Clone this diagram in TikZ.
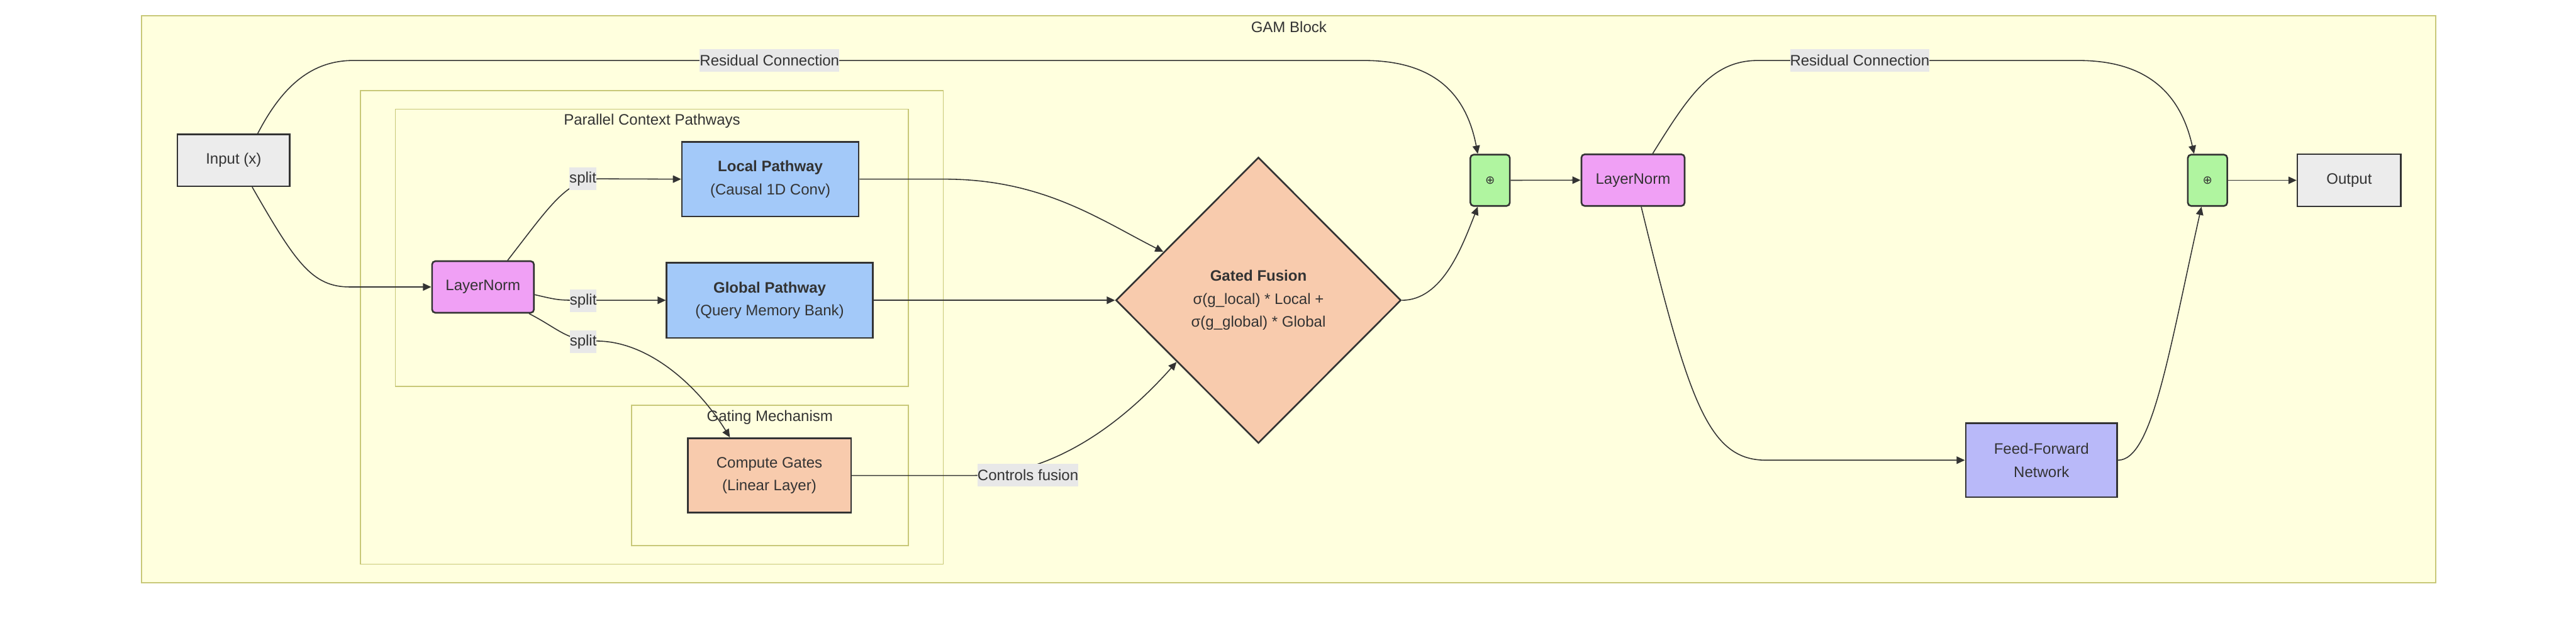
\documentclass[tikz,border=0pt]{standalone}
\usepackage{fontspec}
\setmainfont{Liberation Sans}
\newfontfamily\oplusfont{DejaVu Sans}
\usepackage{tikz}
\usetikzlibrary{shapes.geometric,arrows.meta}
\definecolor{clfill}{HTML}{FFFFDE}
\definecolor{clline}{HTML}{C8C878}
\definecolor{txt}{HTML}{333333}
\definecolor{iofill}{HTML}{ECECEC}
\definecolor{lnfill}{HTML}{F0A0F5}
\definecolor{pathfill}{HTML}{A3C9F9}
\definecolor{gatefill}{HTML}{F8CBAD}
\definecolor{addfill}{HTML}{B0F5A0}
\definecolor{ffnfill}{HTML}{B9B9F9}
\definecolor{lblfill}{HTML}{E8E8E8}

\begin{document}
\begin{tikzpicture}[x=1pt, y=-1pt, font=\fontsize{9.2}{14}\selectfont, text=txt,
    cluster/.style={draw=clline, fill=clfill, line width=0.6pt},
    box/.style={draw=txt, line width=1pt, inner sep=0pt, align=center},
    addbox/.style={box, rounded corners=2pt, fill=addfill, minimum width=24pt, minimum height=31.2pt},
    normbox/.style={box, rounded corners=2pt, fill=lnfill, minimum height=31.4pt},
    edge/.style={draw=txt, line width=0.6pt, -{Triangle[length=5pt,width=4.5pt]}},
    lbl/.style={fill=lblfill, inner sep=0pt, minimum height=13.7pt}]
    \useasboundingbox (0,0) rectangle (1568,389.4);
    \draw[cluster] (86.1,9.5) rectangle (1482.5,354.6);
    \draw[cluster] (219.4,55.1) rectangle (574.2,343.2);
    \draw[cluster] (240.7,66.4) rectangle (552.8,235);
    \draw[cluster] (384.5,246.5) rectangle (552.8,332);
    \node (gamt) at (784.5,16.3) {GAM Block};
    \node (pcpt) at (396.9,73.6) {Parallel Context Pathways};
    \node (gmt) at (468.6,253.8) {Gating Mechanism};

    \node[box, fill=iofill, minimum width=68.4pt, minimum height=31.6pt] (in) at (142.2,97.5) {Input (x)};
    \node[normbox, minimum width=62pt] (ln1) at (294,174.6) {LayerNorm};
    \node[box, fill=pathfill, minimum width=107.6pt, minimum height=45.4pt] (lp) at (468.9,109) {\textbf{Local Pathway}\\(Causal 1D Conv)};
    \node[box, fill=pathfill, minimum width=125.4pt, minimum height=45.7pt] (gp) at (468.5,182.7) {\textbf{Global Pathway}\\(Query Memory Bank)};
    \node[box, fill=gatefill, minimum width=99.4pt, minimum height=45.3pt] (cg) at (468.3,289.3) {Compute Gates\\(Linear Layer)};
    \node[box, shape=diamond, fill=gatefill, minimum width=173.6pt, minimum height=174pt] (gf) at (766,182.7) {\textbf{Gated Fusion}\\σ(g\_local) * Local +\\σ(g\_global) * Global};
    \node[addbox] (pl1) at (907,109.7) {\oplusfont\fontsize{7}{8}\selectfont ⊕};
    \node[normbox, minimum width=62.8pt] (ln2) at (994,109.6) {LayerNorm};
    \node[addbox] (pl2) at (1343.7,109.7) {\oplusfont\fontsize{7}{8}\selectfont ⊕};
    \node[box, fill=iofill, minimum width=63pt, minimum height=31.7pt] (out) at (1429.9,109.7) {Output};
    \node[box, fill=ffnfill, minimum width=92.2pt, minimum height=45.1pt] (ffn) at (1242.6,280) {Feed-Forward\\Network};

    \draw[edge] ([xshift=14.7pt]in.north) .. controls (172,52) and (190,36.8) .. (215,36.8)
        -- node[lbl] {Residual Connection} (721.8,36.8) -- (830,36.8)
        .. controls (876,36.8) and (893,60) .. ([xshift=-7.5pt]pl1.north);
    \draw[edge] ([xshift=11.3pt]in.south) .. controls (180,160) and (190,174.6) .. (213,174.6) -- (ln1.west);
    \draw[edge] ([xshift=15pt]ln1.north) .. controls (335,125) and (345,108.8) .. (365,108.8) -- (lp.west);
    \draw[edge] ([yshift=-4.7pt]ln1.east) .. controls (340,182.7) .. (355,182.7) -- (gp.west);
    \draw[edge] ([xshift=28pt]ln1.south) .. controls (340,200) and (345,207.5) .. (363,207.5)
        .. controls (395,207.5) and (425,235) .. ([xshift=-24pt]cg.north);
    \draw[edge] (lp.east) -- (575,109) .. controls (635,109) and (670,134) .. (gf.153);
    \draw[edge] (gp.east) -- (gf.west);
    \draw[edge] (cg.east) -- (592,289.3) .. controls (645,289.3) and (688,252) .. (gf.217);
    \draw[edge] (gf.east) .. controls (878,182.7) and (890,150) .. ([xshift=-7.5pt]pl1.south);
    \draw[edge] (pl1.east) -- (ln2.west);
    \draw[edge] ([xshift=12pt]ln2.north) .. controls (1028,58) and (1042,36.8) .. (1070,36.8)
        -- node[lbl] {Residual Connection} (1194,36.8) -- (1265,36.8)
        .. controls (1310,36.8) and (1328,60) .. ([xshift=-8.2pt]pl2.north);
    \draw[edge] ([xshift=5pt]ln2.south) .. controls (1028,245) and (1040,280) .. (1075,280) -- (ffn.west);
    \draw[edge] (ffn.east) .. controls (1310,280) and (1320,215) .. ([xshift=-3.7pt]pl2.south);
    \draw[edge] (pl2.east) -- (out.west);

    \node[lbl] (sp1) at (354.8,108.8) {split};
    \node[lbl] (sp2) at (355,183) {split};
    \node[lbl] (sp3) at (355,208) {split};
    \node[lbl] (cf) at (625.7,289.2) {Controls fusion};
\end{tikzpicture}
\end{document}
